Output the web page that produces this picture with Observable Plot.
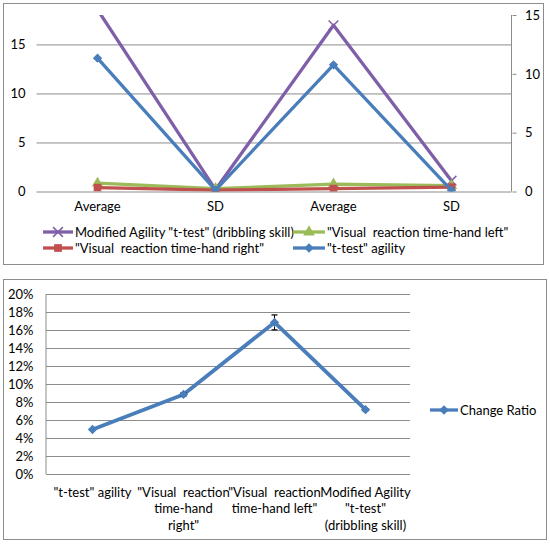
<!DOCTYPE html>
<html><head><meta charset="utf-8">
<script src="https://cdn.jsdelivr.net/npm/d3@7"></script>
<script src="https://cdn.jsdelivr.net/npm/@observablehq/plot@0.6"></script>
<style>
body{margin:0;background:#fff;font-family:Lato,"Noto Sans",sans-serif;}
#page{position:relative;width:550px;height:544px;overflow:hidden;}
.box{position:absolute;border:1px solid #8c8c8c;box-sizing:border-box;}
.plotwrap{position:absolute;left:0;}
.leg{position:absolute;font-size:13px;color:#000;white-space:pre;display:flex;align-items:center;height:16px;}
.leg svg{display:block;}
svg text{white-space:pre;}
</style></head><body><div id="page"></div>
<script>
// ---- Top chart data ----
const topCategories = ["Average", "SD", "Average", "SD"];
const topLeftTicks = [0, 5, 10, 15];
const topRightTicks = [0, 5, 10, 15];
const topLeftMax = 18;
const topRightMax = 15;
const seriesNames = ['Modified Agility "t-test" (dribbling skill)', '"Visual  reaction time-hand left"', '"Visual  reaction time-hand right"', '"t-test" agility'];
const modifiedAgility = [18.6, 0.25, 17.0, 1.15];
const visualLeft = [0.9, 0.35, 0.8, 0.65];
const visualRight = [0.45, 0.2, 0.35, 0.5];
const tTestAgility = [13.65, 0.2, 12.97, 0.17];
const seriesColors = ["#7F60A8", "#9BBB59", "#C0504D", "#4A7EBB"];
const seriesSymbols = ["times", "triangle", "square", "diamond2"];

// ---- Bottom chart data ----
const changeCategories = ['"t-test" agility', '"Visual  reaction\ntime-hand\nright"', '"Visual  reaction\ntime-hand left"', 'Modified Agility\n"t-test"\n(dribbling skill)'];
const changeRatio = [5.0, 8.9, 16.9, 7.2];
const changeError = [0, 0.2, 0.83, 0.12];
const changeTicks = [0, 2, 4, 6, 8, 10, 12, 14, 16, 18, 20];
const changeColor = "#4A7EBB";

const FONT = 'Lato, "Noto Sans", sans-serif';
const GRID = "#8c8c8c";
const page = document.getElementById("page");

function addBox(l, t, w, h) {
  const b = document.createElement("div");
  b.className = "box";
  Object.assign(b.style, {left: l + "px", top: t + "px", width: w + "px", height: h + "px"});
  page.appendChild(b);
}
addBox(3, 3, 541, 262);
addBox(3, 279, 544, 261);

// ---- Top chart ----
const allSeries = [modifiedAgility, visualLeft, visualRight, tTestAgility];
const topMarks = [
  Plot.ruleY(topLeftTicks, {stroke: GRID, strokeWidth: 1}),
  Plot.axisY({ticks: topLeftTicks, tickSize: 0, tickPadding: 11.5, label: null, fontSize: 13}),
  Plot.axisY({anchor: "right", ticks: topRightTicks.map(t => t * topLeftMax / topRightMax),
    tickFormat: t => String(Math.round(t * topRightMax / topLeftMax)), tickSize: 4, tickPadding: 9,
    stroke: GRID, label: null, fontSize: 13}),
  Plot.axisX({ticks: [0, 1, 2, 3], tickFormat: i => topCategories[i], tickSize: 0, tickPadding: 10, label: null, fontSize: 13})
];
allSeries.forEach((arr, s) => {
  const d = arr.map((v, i) => ({i, v}));
  topMarks.push(Plot.line(d, {x: "i", y: "v", stroke: seriesColors[s], strokeWidth: 3.3, clip: true}));
  if (seriesSymbols[s] === "times")
    topMarks.push(Plot.dot(d, {x: "i", y: "v", symbol: "times", r: 4.5, stroke: seriesColors[s], strokeWidth: 1.5, clip: true}));
  else
    topMarks.push(Plot.dot(d, {x: "i", y: "v", symbol: seriesSymbols[s], r: seriesSymbols[s] === "square" ? 4.3 : 4.2, fill: seriesColors[s], clip: true}));
});
const topPlot = Plot.plot({
  width: 550, height: 225,
  marginLeft: 36.5, marginRight: 38.5, marginTop: 15, marginBottom: 33.5,
  x: {type: "point", domain: [0, 1, 2, 3], padding: 0.5},
  y: {domain: [0, topLeftMax]},
  style: {fontFamily: FONT, fontSize: "13px", color: "#000", background: "transparent"},
  marks: topMarks
});
const w1 = document.createElement("div");
w1.className = "plotwrap"; w1.style.top = "0px";
w1.appendChild(topPlot);
page.appendChild(w1);
// right axis line
d3.select(topPlot).append("line")
  .attr("x1", 550 - 38.5).attr("x2", 550 - 38.5)
  .attr("y1", 15).attr("y2", 225 - 33.5).attr("stroke", GRID);

// legend
function legendItem(x, y, color, symbol, text, lineW) {
  const el = document.createElement("div");
  el.className = "leg";
  el.style.left = x + "px"; el.style.top = (y - 8) + "px";
  const svg = d3.create("svg").attr("width", lineW + 2).attr("height", 16);
  svg.append("line").attr("x1", 0).attr("x2", lineW).attr("y1", 8).attr("y2", 8)
    .attr("stroke", color).attr("stroke-width", 3.3);
  const sym = {times: d3.symbolTimes, triangle: d3.symbolTriangle, square: d3.symbolSquare, diamond2: d3.symbolDiamond2}[symbol];
  const p = svg.append("path").attr("transform", `translate(${lineW / 2},8)`)
    .attr("d", d3.symbol(sym, symbol === "times" ? 64 : 60)());
  if (symbol === "times") p.attr("fill", "none").attr("stroke", color).attr("stroke-width", 1.5);
  else p.attr("fill", color);
  el.appendChild(svg.node());
  const t = document.createElement("span");
  t.textContent = text;
  el.appendChild(t);
  page.appendChild(el);
}
legendItem(43, 232, seriesColors[0], seriesSymbols[0], seriesNames[0], 30);
legendItem(293, 232, seriesColors[1], seriesSymbols[1], seriesNames[1], 32);
legendItem(43, 248, seriesColors[2], seriesSymbols[2], seriesNames[2], 30);
legendItem(293, 248, seriesColors[3], seriesSymbols[3], seriesNames[3], 32);

// ---- Bottom chart ----
const bData = changeRatio.map((v, i) => ({i, v, lo: v - changeError[i], hi: v + changeError[i], label: changeCategories[i]}));
const capSymbol = {draw(ctx, size) { const w = 3; ctx.moveTo(-w, 0); ctx.lineTo(w, 0); }};
const bPlot = Plot.plot({
  width: 550, height: 260,
  marginLeft: 46, marginRight: 140, marginTop: 14, marginBottom: 66,
  x: {type: "point", domain: [0, 1, 2, 3], padding: 0.5, axis: null},
  y: {domain: [0, 20]},
  style: {fontFamily: FONT, fontSize: "13px", color: "#000", background: "transparent"},
  marks: [
    Plot.ruleY(changeTicks, {stroke: GRID, strokeWidth: 1}),
    Plot.axisY({ticks: changeTicks, tickFormat: d => d + "%", tickSize: 0, tickPadding: 13, label: null, fontSize: 13}),
    Plot.text(bData, {x: "i", text: "label", frameAnchor: "bottom", lineAnchor: "top", dy: 10.5, lineHeight: 1.28, fontSize: 13}),
    Plot.line(bData, {x: "i", y: "v", stroke: changeColor, strokeWidth: 3.8}),
    Plot.link(bData.filter(d => d.hi > d.lo), {x1: "i", x2: "i", y1: "lo", y2: "hi", stroke: "#000", strokeWidth: 1}),
    Plot.dot(bData.filter(d => d.hi > d.lo), {x: "i", y: "lo", symbol: capSymbol, r: 3, stroke: "#000", strokeWidth: 1.2}),
    Plot.dot(bData.filter(d => d.hi > d.lo), {x: "i", y: "hi", symbol: capSymbol, r: 3, stroke: "#000", strokeWidth: 1.2}),
    Plot.dot(bData, {x: "i", y: "v", symbol: "diamond2", r: 4.2, fill: changeColor})
  ]
});
const w2 = document.createElement("div");
w2.className = "plotwrap"; w2.style.top = "280px";
w2.appendChild(bPlot);
page.appendChild(w2);
d3.select(bPlot).append("line")
  .attr("x1", 46).attr("x2", 46)
  .attr("y1", 14).attr("y2", 260 - 66).attr("stroke", GRID);

legendItem(430, 410, changeColor, "diamond2", "Change Ratio", 28);
</script></body></html>
